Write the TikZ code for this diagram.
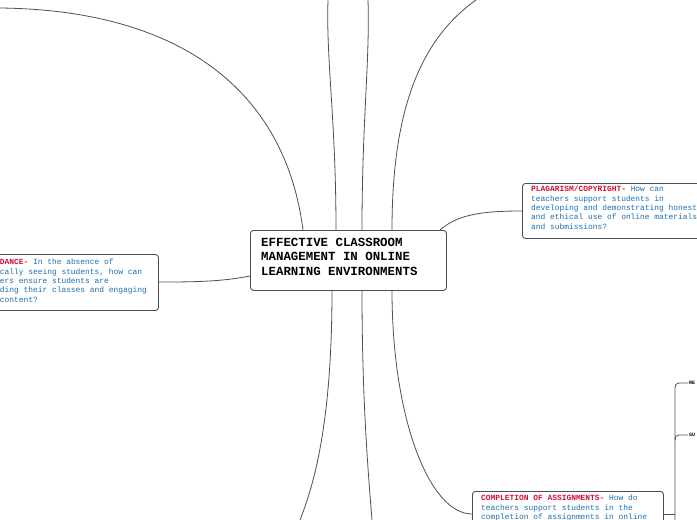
\documentclass[tikz,border=0pt]{standalone}
\usepackage{fontspec}
\setmonofont{Liberation Mono}
\definecolor{lab}{HTML}{D0103A}
\definecolor{txt}{HTML}{1F6FAE}
\definecolor{ln}{HTML}{4A4F56}
\begin{document}
\begin{tikzpicture}[x=1pt,y=-1pt,
  box/.style={draw=ln,rounded corners=3pt,line width=0.9pt,fill=white,inner sep=0pt},
  lnk/.style={draw=ln,line width=0.8pt},
  small/.style={font=\ttfamily\fontsize{7.9}{9.3}\selectfont,align=left,anchor=north west,inner sep=0pt}]
\useasboundingbox (0,0) rectangle (697,520);
% connectors (drawn first)
\draw[lnk] (303,230) .. controls (285,90) and (180,10) .. (0,8);
\draw[lnk] (336,230) .. controls (336,120) and (326,60) .. (328,0);
\draw[lnk] (362,230) .. controls (362,120) and (370,60) .. (368,0);
\draw[lnk] (392,230) .. controls (392,110) and (420,40) .. (476,0);
\draw[lnk] (438,232) .. controls (455,215) and (480,211) .. (522,211);
\draw[lnk] (250,276) .. controls (220,282) and (190,282) .. (158,282);
\draw[lnk] (332,290) .. controls (332,400) and (320,470) .. (300,520);
\draw[lnk] (362,290) .. controls (362,400) and (368,470) .. (372,520);
\draw[lnk] (392,290) .. controls (392,420) and (430,514) .. (472,514);
\draw[lnk] (663,514) -- (675,514);
\draw[lnk] (688,383) -- (679,383) .. controls (676,383) and (675,385) .. (675,388) -- (675,520);
\draw[lnk] (688,435) -- (679,435) .. controls (676,435) and (675,437) .. (675,440);
% central
\node[box,minimum width=196pt,minimum height=60pt,anchor=north west] (c) at (250,230) {};
\node[anchor=north west,inner sep=0pt,align=left,font=\ttfamily\bfseries\fontsize{12.4}{14.5}\selectfont] (ct) at (261,238) {EFFECTIVE CLASSROOM\\MANAGEMENT IN ONLINE\\LEARNING ENVIRONMENTS};
% left
\node[box,minimum width=190pt,minimum height=56pt,anchor=north west] (a) at (-32,254) {};
\node[small] (at) at (-24,259) {\textcolor{lab}{\bfseries ATTENDANCE-}~\textcolor{txt}{In the absence of}\\\textcolor{txt}{physically seeing students, how can}\\\textcolor{txt}{teachers ensure students are}\\\textcolor{txt}{attending their classes and engaging}\\\textcolor{txt}{with content?}};
% plagiarism
\node[box,minimum width=190pt,minimum height=55pt,anchor=north west] (p) at (522,183) {};
\node[small] (pt) at (531,186) {\textcolor{lab}{\bfseries PLAGARISM/COPYRIGHT-}~\textcolor{txt}{How can}\\\textcolor{txt}{teachers support students in}\\\textcolor{txt}{developing and demonstrating honesty}\\\textcolor{txt}{and ethical use of online materials}\\\textcolor{txt}{and submissions?}};
% completion
\node[box,minimum width=191pt,minimum height=50pt,anchor=north west] (m) at (472,491) {};
\node[small] (mt) at (481,495) {\textcolor{lab}{\bfseries COMPLETION OF ASSIGNMENTS-}~\textcolor{txt}{How do}\\\textcolor{txt}{teachers support students in the}\\\textcolor{txt}{completion of assignments in online}};
% tiny labels
\node[anchor=west,inner sep=0pt,font=\ttfamily\bfseries\fontsize{5}{6}\selectfont] (r) at (689,383) {RE};
\node[anchor=west,inner sep=0pt,font=\ttfamily\bfseries\fontsize{5}{6}\selectfont] (s) at (689,435) {SU};
\end{tikzpicture}
\end{document}
